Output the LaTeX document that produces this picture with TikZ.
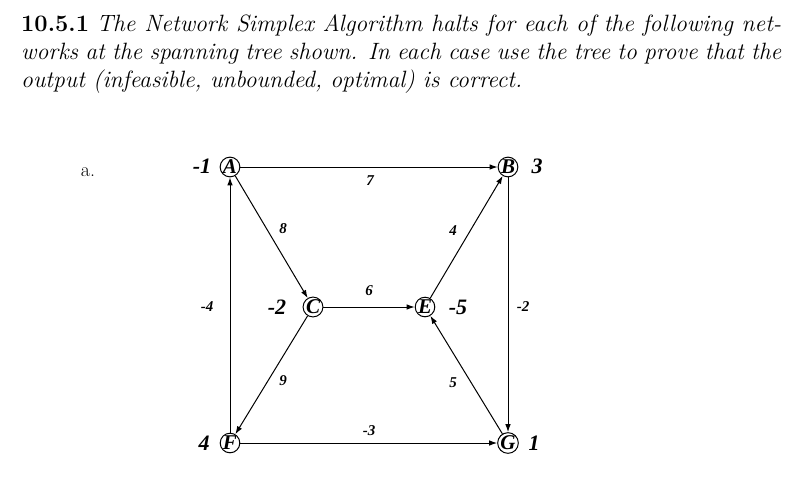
\documentclass[tikz,border=0pt]{standalone}
\usepackage{fontspec}
\newfontfamily\tms{Liberation Serif}
\usetikzlibrary{arrows.meta}
\tikzset{
 nd/.style={circle,draw,line width=1pt,inner sep=0pt,minimum size=18pt,font=\tms\bfseries\itshape\fontsize{21}{21}\selectfont},
 nl/.style={font=\tms\bfseries\itshape\fontsize{22}{22}\selectfont},
 el/.style={font=\tms\bfseries\itshape\fontsize{15}{15}\selectfont},
 ar/.style={line width=1pt,-{Latex[length=8pt,width=5.5pt]}}
}
\begin{document}
\begin{tikzpicture}[x=1pt,y=-1pt]
\useasboundingbox (0,0) rectangle (805,493);
\node[anchor=north west,text width=760pt,align=justify,inner sep=0pt,font=\fontsize{23.6}{28}\selectfont] (hdr) at (21,14)
 {\textbf{10.5.1} \textit{The Network Simplex Algorithm halts for each of the following networks at the spanning tree shown. In each case use the tree to prove that the output (infeasible, unbounded, optimal) is correct.}};
\node[font=\fontsize{20}{20}\selectfont] (lbl) at (88,172) {a.};
\node[nd] (A) at (230,167) {A};
\node[nd] (B) at (508,167) {B};
\node[nd] (C) at (313,307) {C};
\node[nd] (E) at (425,307) {E};
\node[nd] (F) at (230,443) {F};
\node[nd] (G) at (508,443) {G};
\node[nl] (lA) at (202,166) {-1};
\node[nl] (lB) at (537,166) {3};
\node[nl] (lC) at (277,307) {-2};
\node[nl] (lE) at (458,307) {-5};
\node[nl] (lF) at (204,443) {4};
\node[nl] (lG) at (534,443) {1};
\draw[ar] (A) -- (B);
\draw[ar] (A) -- (C);
\draw[ar] (C) -- (E);
\draw[ar] (E) -- (B);
\draw[ar] (B) -- (G);
\draw[ar] (G) -- (E);
\draw[ar] (C) -- (F);
\draw[ar] (F) -- (A);
\draw[ar] (F) -- (G);
\node[el] (e7) at (370,181) {7};
\node[el] (e8) at (283,229) {8};
\node[el] (e4) at (453,231) {4};
\node[el] (e6) at (369,291) {6};
\node[el] (em4) at (207,307) {-4};
\node[el] (em2) at (523,307) {-2};
\node[el] (e9) at (283,381) {9};
\node[el] (e5) at (453,383) {5};
\node[el] (em3) at (369,431) {-3};
\end{tikzpicture}
\end{document}
